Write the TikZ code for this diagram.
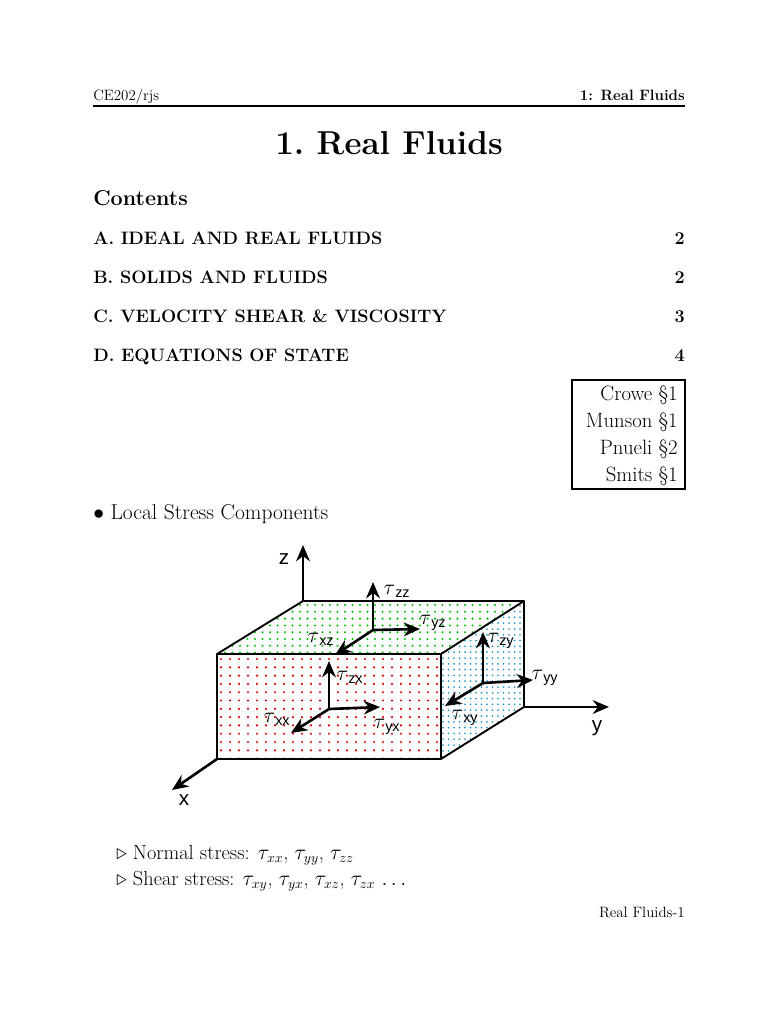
\documentclass[tikz,border=0pt]{standalone}
\usepackage{fontspec}
\newfontfamily\hv{Liberation Sans}
\usepackage{amssymb}
\usetikzlibrary{arrows.meta}
\begin{document}
\begin{tikzpicture}[x=0.797bp,y=-0.797bp,
  ax/.style={line width=2.1pt,-{Stealth[length=13pt,width=11pt]}},
  st/.style={line width=2.1pt,-{Stealth[length=13pt,width=11pt]}},
  edge/.style={line width=1.5pt,line join=round},
  lab/.style={inner sep=1pt,font=\hv\fontsize{16.5}{18}\selectfont},
  ent/.style={anchor=base west,inner sep=0pt,font=\bfseries\fontsize{14.4}{16}\selectfont},
  num/.style={anchor=base east,inner sep=0pt,font=\bfseries\fontsize{14.4}{16}\selectfont},
  txt/.style={anchor=base east,inner sep=0pt,font=\fontsize{16.6}{19}\selectfont}]
\useasboundingbox (0,0) rectangle (768,1024);
% header
\node[anchor=base west,inner sep=0pt,font=\fontsize{12}{14}\selectfont] (hl) at (93,101) {CE202/rjs};
\node[anchor=base east,inner sep=0pt,font=\fontsize{12}{14}\selectfont\bfseries] (hr) at (685,101) {1: Real Fluids};
\draw[line width=0.9pt] (93,106) -- (685,106);
\node[font=\bfseries\fontsize{26.5}{30}\selectfont,inner sep=0pt] (title) at (389,143) {1.\ Real Fluids};
\node[anchor=base west,inner sep=0pt,font=\bfseries\fontsize{17.2}{19}\selectfont] (cont) at (93,205) {Contents};
\node[ent] (a) at (93,244) {A. IDEAL AND REAL FLUIDS};\node[num] (an) at (685,244) {2};
\node[ent] (b) at (93,283) {B. SOLIDS AND FLUIDS};\node[num] (bn) at (685,283) {2};
\node[ent] (c) at (93,322) {C. VELOCITY SHEAR \& VISCOSITY};\node[num] (cn) at (685,322) {3};
\node[ent] (d) at (93,361) {D. EQUATIONS OF STATE};\node[num] (dn) at (685,361) {4};
\draw[line width=1pt] (572,380) rectangle (685,489);
\node[txt] (box) at (678,400) {Crowe \S1};
\node[txt] (box2) at (678,427) {Munson \S1};
\node[txt] (box3) at (678,454) {Pnueli \S2};
\node[txt] (box4) at (678,481) {Smits \S1};
\node[anchor=base west,inner sep=0pt,font=\fontsize{17.2}{19}\selectfont] (lsc) at (93,519) {$\bullet$ Local Stress Components};
% faces with dots
\begin{scope}
\clip (217,654) rectangle (441,759);
\foreach \i in {0,...,25} \foreach \j in {0,...,12}
  \fill[red!85!black] (221+\i*9,659+\j*8.3) circle (1.2);
\end{scope}
\begin{scope}
\clip (217,654) -- (303,601) -- (524,601) -- (441,654) -- cycle;
\foreach \i in {0,...,48} \foreach \j in {0,...,8}
  \fill[green!75!black] (210+\i*7.5,605+\j*6.8) circle (1.15);
\end{scope}
\begin{scope}
\clip (441,654) -- (524,601) -- (524,707) -- (441,759) -- cycle;
\foreach \i in {0,...,15} \foreach \j in {0,...,27}
  \fill[cyan!80!black] (443+\i*5.5,600+\j*5.8) circle (1.0);
\end{scope}
\draw[edge] (217,654) rectangle (441,759);
\draw[edge] (217,654) -- (303,601) -- (524,601) -- (441,654);
\draw[edge] (524,601) -- (524,707) -- (441,759);
% axes
\coordinate (o1) at (303,601); \coordinate (zt) at (303,545);
\coordinate (o2) at (217,759); \coordinate (xt) at (172,790);
\coordinate (o3) at (524,707); \coordinate (yt) at (609,707);
\draw[ax] (o1) -- (zt);
\draw[ax] (o2) -- (xt);
\draw[ax] (o3) -- (yt);
\node[lab] (zl) at (284,559) {z};
\node[lab] (xl) at (184,800) {x};
\node[lab] (yl) at (597,728) {y};
% stresses top
\coordinate (t0) at (373,630);
\draw[st] (t0) -- (373,582);
\draw[st] (t0) -- (420,629);
\draw[st] (t0) -- (335,655);
\node[lab] (tzz) at (397,591) {$\tau$\textsubscript{zz}};
\node[lab] (tyz) at (433,623) {$\tau$\textsubscript{yz}};
\node[lab] (txz) at (321,639) {$\tau$\textsubscript{xz}};
% right face
\coordinate (r0) at (483,683);
\draw[st] (r0) -- (483,632);
\draw[st] (r0) -- (533,680);
\draw[st] (r0) -- (445,706);
\node[lab] (tzy) at (501,641) {$\tau$\textsubscript{zy}};
\node[lab] (tyy) at (545,678) {$\tau$\textsubscript{yy}};
\node[lab] (txy) at (465,718) {$\tau$\textsubscript{xy}};
% front face
\coordinate (f0) at (329,709);
\draw[st] (f0) -- (329,661);
\draw[st] (f0) -- (380,707);
\draw[st] (f0) -- (291,733);
\node[lab] (tzx) at (350,677) {$\tau$\textsubscript{zx}};
\node[lab] (tyx) at (387,727) {$\tau$\textsubscript{yx}};
\node[lab] (txx) at (277,719) {$\tau$\textsubscript{xx}};
% bullets
\node[anchor=base west,inner sep=0pt,font=\fontsize{16.3}{19}\selectfont] (ns) at (116,859) {$\triangleright$ Normal stress: $\tau_{xx}$, $\tau_{yy}$, $\tau_{zz}$};
\node[anchor=base west,inner sep=0pt,font=\fontsize{16.3}{19}\selectfont] (ss) at (116,885) {$\triangleright$ Shear stress: $\tau_{xy}$, $\tau_{yx}$, $\tau_{xz}$, $\tau_{zx}$ $\ldots$};
\node[anchor=base east,inner sep=0pt,font=\fontsize{12}{14}\selectfont] (foot) at (685,917) {Real Fluids-1};
\end{tikzpicture}
\end{document}
